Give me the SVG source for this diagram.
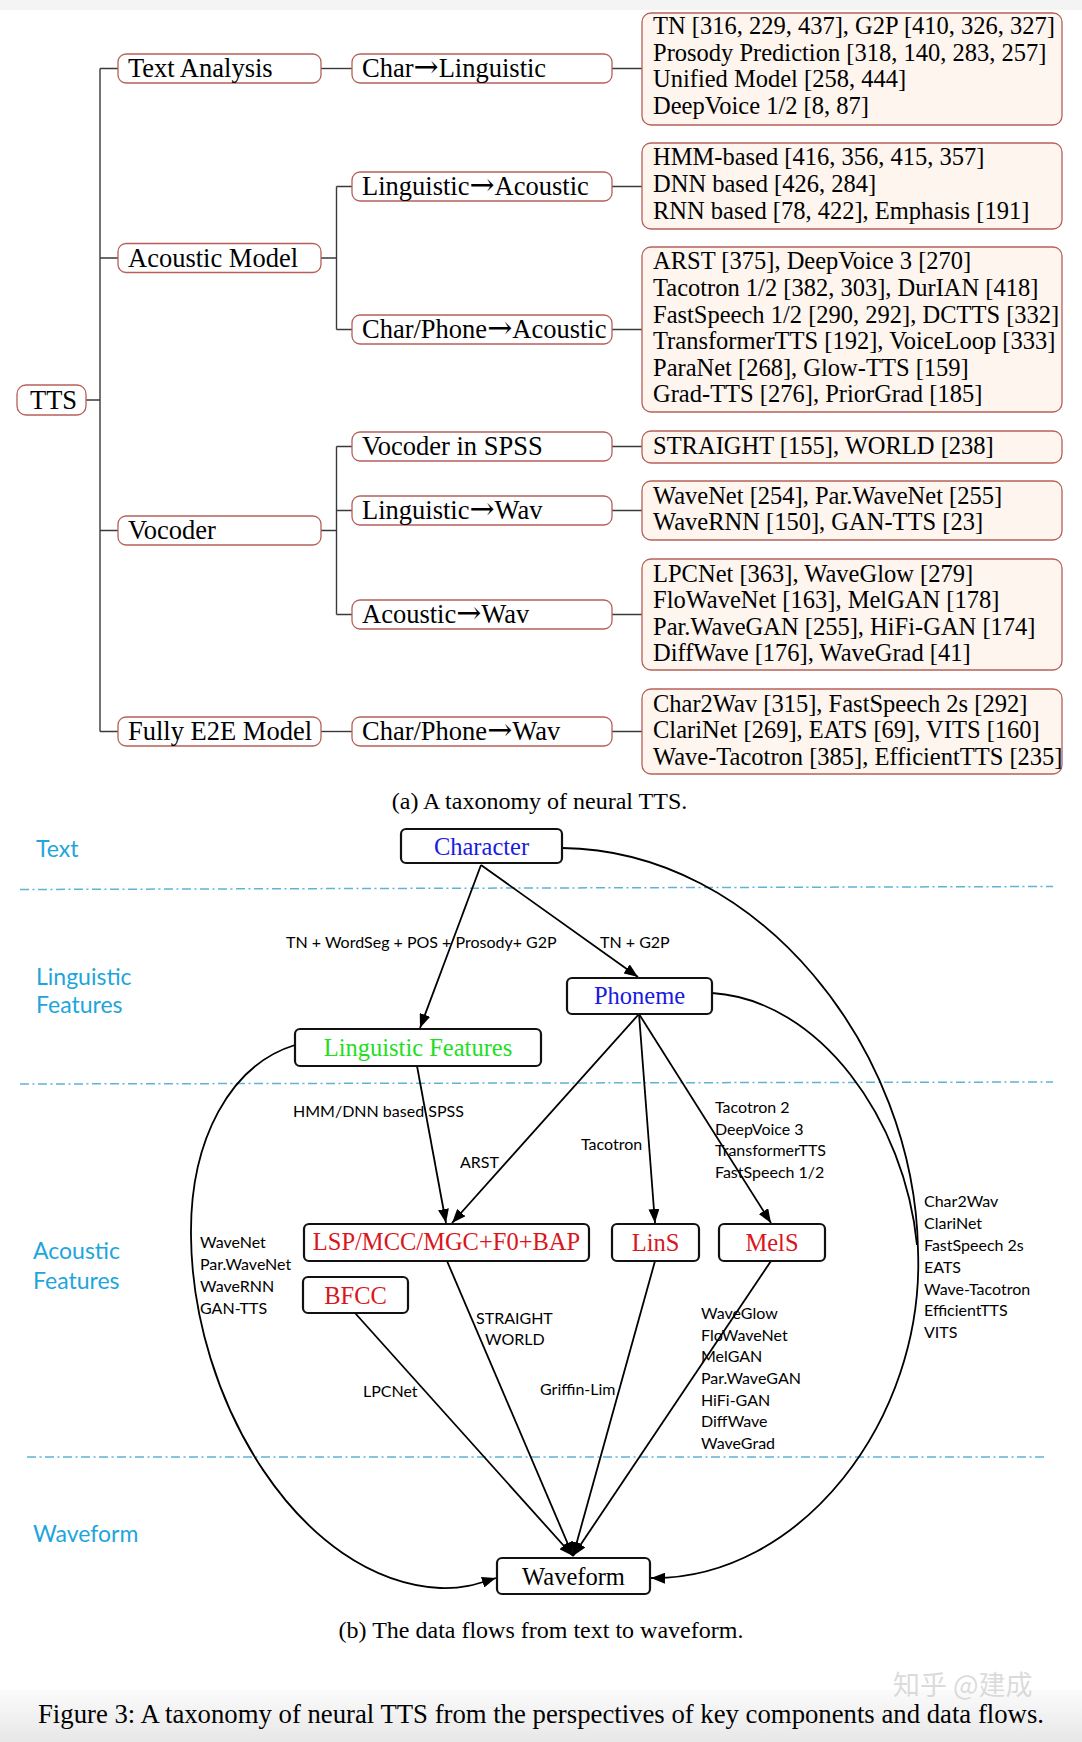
<svg xmlns="http://www.w3.org/2000/svg" width="1082" height="1742" viewBox="0 0 1082 1742">
<defs>
<style>
.tbox{fill:#ffffff;stroke:#b5605a;stroke-width:1.3}
.lbox{fill:#fdf5ee;stroke:#b5605a;stroke-width:1.3}
.tline{stroke:#3a3a3a;stroke-width:1.4;fill:none}
.serif{font-family:"Liberation Serif","Times New Roman",serif;fill:#000}
.t1{font-size:26.5px}
.t3{font-size:24.5px}
.arr{font-family:"DejaVu Serif","DejaVu Sans",serif;font-size:30px}
.nbox{fill:#ffffff;stroke:#111111;stroke-width:2.2}
.ntxt{font-family:"Liberation Serif","Times New Roman",serif;font-size:24.5px;text-anchor:middle}
.blue{fill:#1a1ae0}
.green{fill:#22dd22}
.red{fill:#d9161c}
.edge{stroke:#000;stroke-width:1.8;fill:none}
.lab{font-family:Lato,"Open Sans","Liberation Sans",sans-serif;font-size:16px;fill:#000}
.cy{font-family:Lato,"Open Sans","Liberation Sans",sans-serif;font-size:23px;fill:#1ea5dc}
.dash{stroke:#5fb4d2;stroke-width:1.5;stroke-dasharray:9 3.5 2 3.5;fill:none}
</style>
<marker id="ah" markerUnits="userSpaceOnUse" markerWidth="14" markerHeight="11" refX="14" refY="5.5" orient="auto">
<path d="M0,0 L14,5.5 L0,11 z" fill="#000"/>
</marker>
<linearGradient id="bg" x1="0" y1="0" x2="0" y2="1">
<stop offset="0" stop-color="#fbfbfb"/>
<stop offset="1" stop-color="#e7e7e7"/>
</linearGradient>
</defs>
<rect x="0" y="0" width="1082" height="1742" fill="#ffffff"/>
<rect x="0" y="0" width="1082" height="10" fill="#f4f4f4"/>
<rect x="0" y="1690" width="1082" height="52" fill="url(#bg)"/>

<!-- ===== (a) taxonomy connectors ===== -->
<g id="tree-connectors" class="tline">
<path d="M86 400 H100 M100 68.5 V731.5"/>
<path d="M100 68.5 H118 M100 258 H118 M100 530.5 H118 M100 731.5 H118"/>
<path d="M321 68.5 H352"/>
<path d="M321 258 H336.5 M336.5 186.5 V329.5 M336.5 186.5 H352 M336.5 329.5 H352"/>
<path d="M321 530.5 H336.5 M336.5 446.5 V614.5 M336.5 446.5 H352 M336.5 510.5 H352 M336.5 614.5 H352"/>
<path d="M321 731.5 H352"/>
<path d="M612 68.5 H642 M612 186.5 H642 M612 329.5 H642 M612 446.5 H642 M612 510.5 H642 M612 614.5 H642 M612 731.5 H642"/>
</g>

<g id="tts"><rect class="tbox" x="17" y="385" width="69" height="30" rx="9"/><text class="serif t1" x="30" y="408.5">TTS</text></g>

<g id="text-analysis"><rect class="tbox" x="118" y="54" width="203" height="29" rx="8"/><text class="serif t1" x="128" y="77">Text Analysis</text></g>
<g id="acoustic-model"><rect class="tbox" x="118" y="243.5" width="203" height="29" rx="8"/><text class="serif t1" x="128" y="266.5">Acoustic Model</text></g>
<g id="vocoder"><rect class="tbox" x="118" y="516" width="203" height="29" rx="8"/><text class="serif t1" x="128" y="539">Vocoder</text></g>
<g id="fully-e2e"><rect class="tbox" x="118" y="717" width="203" height="29" rx="8"/><text class="serif t1" x="128" y="740">Fully E2E Model</text></g>

<g id="char-ling"><rect class="tbox" x="352" y="54" width="260" height="29" rx="8"/><text class="serif t1" x="362" y="77">Char<tspan class="arr">→</tspan>Linguistic</text></g>
<g id="ling-ac"><rect class="tbox" x="352" y="172" width="260" height="29" rx="8"/><text class="serif t1" x="362" y="195">Linguistic<tspan class="arr">→</tspan>Acoustic</text></g>
<g id="char-ac"><rect class="tbox" x="352" y="315" width="260" height="29" rx="8"/><text class="serif t1" x="362" y="338">Char/Phone<tspan class="arr">→</tspan>Acoustic</text></g>
<g id="voc-spss"><rect class="tbox" x="352" y="432" width="260" height="29" rx="8"/><text class="serif t1" x="362" y="455">Vocoder in SPSS</text></g>
<g id="ling-wav"><rect class="tbox" x="352" y="496" width="260" height="29" rx="8"/><text class="serif t1" x="362" y="519">Linguistic<tspan class="arr">→</tspan>Wav</text></g>
<g id="ac-wav"><rect class="tbox" x="352" y="600" width="260" height="29" rx="8"/><text class="serif t1" x="362" y="623">Acoustic<tspan class="arr">→</tspan>Wav</text></g>
<g id="char-wav"><rect class="tbox" x="352" y="717" width="260" height="29" rx="8"/><text class="serif t1" x="362" y="740">Char/Phone<tspan class="arr">→</tspan>Wav</text></g>

<g id="leaf-1"><rect class="lbox" x="642" y="13" width="420" height="112" rx="9"/>
<text class="serif t3" x="653" y="34">TN [316, 229, 437], G2P [410, 326, 327]</text>
<text class="serif t3" x="653" y="60.5">Prosody Prediction [318, 140, 283, 257]</text>
<text class="serif t3" x="653" y="87">Unified Model [258, 444]</text>
<text class="serif t3" x="653" y="113.5">DeepVoice 1/2 [8, 87]</text></g>
<g id="leaf-2"><rect class="lbox" x="642" y="143" width="420" height="86" rx="9"/>
<text class="serif t3" x="653" y="165">HMM-based [416, 356, 415, 357]</text>
<text class="serif t3" x="653" y="192">DNN based [426, 284]</text>
<text class="serif t3" x="653" y="218.5">RNN based [78, 422], Emphasis [191]</text></g>
<g id="leaf-3"><rect class="lbox" x="642" y="247" width="420" height="165" rx="9"/>
<text class="serif t3" x="653" y="269">ARST [375], DeepVoice 3 [270]</text>
<text class="serif t3" x="653" y="296">Tacotron 1/2 [382, 303], DurIAN [418]</text>
<text class="serif t3" x="653" y="322.5">FastSpeech 1/2 [290, 292], DCTTS [332]</text>
<text class="serif t3" x="653" y="349">TransformerTTS [192], VoiceLoop [333]</text>
<text class="serif t3" x="653" y="375.5">ParaNet [268], Glow-TTS [159]</text>
<text class="serif t3" x="653" y="402">Grad-TTS [276], PriorGrad [185]</text></g>
<g id="leaf-4"><rect class="lbox" x="642" y="431" width="420" height="32" rx="9"/>
<text class="serif t3" x="653" y="454">STRAIGHT [155], WORLD [238]</text></g>
<g id="leaf-5"><rect class="lbox" x="642" y="481" width="420" height="59" rx="9"/>
<text class="serif t3" x="653" y="503.5">WaveNet [254], Par.WaveNet [255]</text>
<text class="serif t3" x="653" y="530">WaveRNN [150], GAN-TTS [23]</text></g>
<g id="leaf-6"><rect class="lbox" x="642" y="559" width="420" height="111" rx="9"/>
<text class="serif t3" x="653" y="582">LPCNet [363], WaveGlow [279]</text>
<text class="serif t3" x="653" y="608">FloWaveNet [163], MelGAN [178]</text>
<text class="serif t3" x="653" y="634.5">Par.WaveGAN [255], HiFi-GAN [174]</text>
<text class="serif t3" x="653" y="661">DiffWave [176], WaveGrad [41]</text></g>
<g id="leaf-7"><rect class="lbox" x="642" y="689" width="420" height="85" rx="9"/>
<text class="serif t3" x="653" y="711.5">Char2Wav [315], FastSpeech 2s [292]</text>
<text class="serif t3" x="653" y="738">ClariNet [269], EATS [69], VITS [160]</text>
<text class="serif t3" x="653" y="764.5">Wave-Tacotron [385], EfficientTTS [235]</text></g>

<text class="serif" x="539.5" y="809" font-size="24" text-anchor="middle">(a) A taxonomy of neural TTS.</text>

<!-- ===== (b) data flow ===== -->
<g id="lanes">
<path class="dash" d="M20 889.5 L1053 886.5"/>
<path class="dash" d="M20 1084 L1053 1082"/>
<path class="dash" d="M27 1457 L1047 1457"/>
<text class="cy" x="36" y="857">Text</text>
<text class="cy" x="36" y="985">Linguistic</text>
<text class="cy" x="36" y="1013">Features</text>
<text class="cy" x="33" y="1259">Acoustic</text>
<text class="cy" x="33" y="1289">Features</text>
<text class="cy" x="33" y="1542">Waveform</text>
</g>

<g id="flow-connectors">
<path class="edge" d="M481 865 L420 1028" marker-end="url(#ah)"/>
<path class="edge" d="M481 865 L638 977" marker-end="url(#ah)"/>
<path class="edge" d="M639 1014 L452 1223" marker-end="url(#ah)"/>
<path class="edge" d="M639 1014 L655 1223" marker-end="url(#ah)"/>
<path class="edge" d="M639 1014 L771 1223" marker-end="url(#ah)"/>
<path class="edge" d="M417 1066 L446 1223" marker-end="url(#ah)"/>
<path class="edge" d="M447 1261 L573 1556" marker-end="url(#ah)"/>
<path class="edge" d="M355 1313 L573 1556" marker-end="url(#ah)"/>
<path class="edge" d="M655 1261 L573 1556" marker-end="url(#ah)"/>
<path class="edge" d="M771 1261 L573 1556" marker-end="url(#ah)"/>
<path class="edge" d="M295 1045 C230 1065, 190 1140, 191 1235 C192 1400, 300 1580, 440 1588 C465 1589, 480 1583, 496 1578" marker-end="url(#ah)"/>
<path class="edge" d="M562 848 C760 850, 915 1050, 918 1250 C925 1420, 800 1580, 651 1578" marker-end="url(#ah)"/>
<path class="edge" d="M712 993 C820 1000, 905 1120, 917 1245"/>
<text class="lab" x="286" y="948">TN + WordSeg + POS + Prosody+ G2P</text>
<text class="lab" x="600" y="948">TN + G2P</text>
<text class="lab" x="293" y="1117">HMM/DNN based SPSS</text>
<text class="lab" x="460" y="1168">ARST</text>
<text class="lab" x="581" y="1150">Tacotron</text>
<text class="lab" x="715" y="1113">Tacotron 2</text>
<text class="lab" x="715" y="1134.5">DeepVoice 3</text>
<text class="lab" x="715" y="1156">TransformerTTS</text>
<text class="lab" x="715" y="1177.5">FastSpeech 1/2</text>
<text class="lab" x="924" y="1207">Char2Wav</text>
<text class="lab" x="924" y="1229">ClariNet</text>
<text class="lab" x="924" y="1251">FastSpeech 2s</text>
<text class="lab" x="924" y="1273">EATS</text>
<text class="lab" x="924" y="1294.5">Wave-Tacotron</text>
<text class="lab" x="924" y="1316">EfficientTTS</text>
<text class="lab" x="924" y="1338">VITS</text>
<text class="lab" x="200" y="1248">WaveNet</text>
<text class="lab" x="200" y="1269.5">Par.WaveNet</text>
<text class="lab" x="200" y="1291.5">WaveRNN</text>
<text class="lab" x="200" y="1313.5">GAN-TTS</text>
<text class="lab" x="476" y="1324">STRAIGHT</text>
<text class="lab" x="485" y="1345">WORLD</text>
<text class="lab" x="363" y="1397">LPCNet</text>
<text class="lab" x="540" y="1395">Griffin-Lim</text>
<text class="lab" x="701" y="1319">WaveGlow</text>
<text class="lab" x="701" y="1340.5">FloWaveNet</text>
<text class="lab" x="701" y="1362">MelGAN</text>
<text class="lab" x="701" y="1384">Par.WaveGAN</text>
<text class="lab" x="701" y="1405.5">HiFi-GAN</text>
<text class="lab" x="701" y="1427">DiffWave</text>
<text class="lab" x="701" y="1449">WaveGrad</text>
</g>

<g id="character"><rect class="nbox" x="401" y="829" width="161" height="34" rx="5"/><text class="ntxt blue" x="481.5" y="855">Character</text></g>
<g id="phoneme"><rect class="nbox" x="567" y="978" width="145" height="36" rx="5"/><text class="ntxt blue" x="639.5" y="1004">Phoneme</text></g>
<g id="linguistic-features"><rect class="nbox" x="295" y="1029" width="246" height="37" rx="5"/><text class="ntxt green" x="418" y="1056">Linguistic Features</text></g>
<g id="lsp"><rect class="nbox" x="304" y="1224" width="285" height="37" rx="5"/><text class="ntxt red" x="446.5" y="1250" font-size="21">LSP/MCC/MGC+F0+BAP</text></g>
<g id="lins"><rect class="nbox" x="612" y="1224" width="87" height="37" rx="5"/><text class="ntxt red" x="655.5" y="1251">LinS</text></g>
<g id="mels"><rect class="nbox" x="719" y="1224" width="106" height="37" rx="5"/><text class="ntxt red" x="772" y="1251">MelS</text></g>
<g id="bfcc"><rect class="nbox" x="303" y="1277" width="105" height="36" rx="5"/><text class="ntxt red" x="355.5" y="1304">BFCC</text></g>
<g id="waveform"><rect class="nbox" x="497" y="1558" width="153" height="36" rx="5"/><text class="ntxt" x="573.5" y="1585">Waveform</text></g>

<text class="serif" x="541" y="1638" font-size="24" text-anchor="middle">(b) The data flows from text to waveform.</text>
<text class="serif" x="38" y="1723" font-size="26.6" textLength="1006" lengthAdjust="spacingAndGlyphs">Figure 3: A taxonomy of neural TTS from the perspectives of key components and data flows.</text>
<text x="893" y="1695" font-family="'Noto Sans CJK SC',sans-serif" font-size="27" fill="#c4c4c4" fill-opacity="0.6">知乎 @建成</text>
</svg>
